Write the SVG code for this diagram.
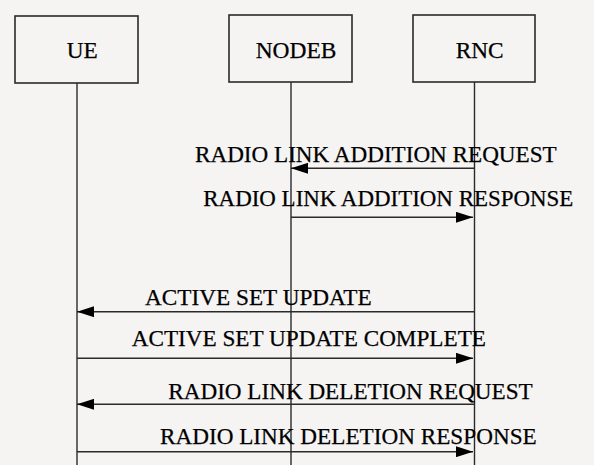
<svg xmlns="http://www.w3.org/2000/svg" width="594" height="465" viewBox="0 0 594 465">
<style>
.box{fill:none;stroke:#2a2a2a;stroke-width:1.6}
.life{stroke:#2a2a2a;stroke-width:1.4;fill:none}
.msg{stroke:#2a2a2a;stroke-width:1.4;fill:none;marker-end:url(#ah)}
text{font-family:"Liberation Serif","Times New Roman",serif;font-size:24px;fill:#000;stroke:#000;stroke-width:0.25}
</style>
<defs>
<marker id="ah" markerUnits="userSpaceOnUse" markerWidth="17" markerHeight="11" refX="17" refY="5.5" orient="auto">
<path d="M0,0 L17,5.5 L0,11 z" fill="#000"/>
</marker>
</defs>
<rect width="594" height="465" fill="#f6f4f3"/>
<g id="ue">
<rect class="box" x="15" y="16" width="123" height="67"/>
<text x="66.7" y="57.5" textLength="31" lengthAdjust="spacingAndGlyphs">UE</text>
</g>
<g id="nodeb">
<rect class="box" x="229" y="15" width="123" height="67"/>
<text x="255.7" y="57.5" textLength="80.7" lengthAdjust="spacingAndGlyphs">NODEB</text>
</g>
<g id="rnc">
<rect class="box" x="413" y="15" width="122" height="67"/>
<text x="455.7" y="57.5" textLength="48" lengthAdjust="spacingAndGlyphs">RNC</text>
</g>
<g id="connectors">
<line class="life" x1="77" y1="83" x2="77" y2="465"/>
<line class="life" x1="291" y1="82" x2="291" y2="465"/>
<line class="life" x1="474.5" y1="82" x2="474.5" y2="465"/>
<line class="msg" x1="474.5" y1="168.3" x2="291" y2="168.3"/>
<line class="msg" x1="291" y1="217.3" x2="473" y2="217.3"/>
<line class="msg" x1="474.5" y1="311.7" x2="77" y2="311.7"/>
<line class="msg" x1="77" y1="358.3" x2="473" y2="358.3"/>
<line class="msg" x1="474.5" y1="404.3" x2="77" y2="404.3"/>
<line class="msg" x1="77" y1="451.7" x2="473" y2="451.7"/>
</g>
<g id="labels">
<text x="195" y="162.3" textLength="361.7" lengthAdjust="spacingAndGlyphs">RADIO LINK ADDITION REQUEST</text>
<text x="203.3" y="206" textLength="370" lengthAdjust="spacingAndGlyphs">RADIO LINK ADDITION RESPONSE</text>
<text x="145" y="305" textLength="226.7" lengthAdjust="spacingAndGlyphs">ACTIVE SET UPDATE</text>
<text x="131.7" y="345.7" textLength="354.3" lengthAdjust="spacingAndGlyphs">ACTIVE SET UPDATE COMPLETE</text>
<text x="168.3" y="399" textLength="364.4" lengthAdjust="spacingAndGlyphs">RADIO LINK DELETION REQUEST</text>
<text x="160" y="444" textLength="376.7" lengthAdjust="spacingAndGlyphs">RADIO LINK DELETION RESPONSE</text>
</g>
</svg>
